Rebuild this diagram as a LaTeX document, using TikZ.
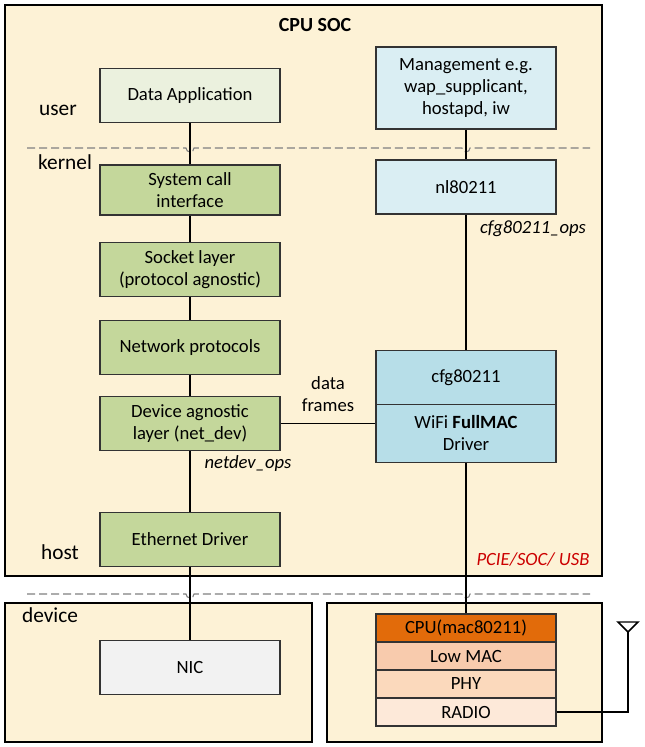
\documentclass[tikz,border=0pt]{standalone}
\usepackage{fontspec}
\setmainfont{Carlito}
\begin{document}
\begin{tikzpicture}[x=0.75pt,y=-0.75pt,
  every node/.style={font=\fontsize{14}{16.5}\selectfont},
  box/.style={draw=black!80,line width=0.9pt,minimum width=135pt,align=center,inner sep=0pt},
  grn/.style={box,fill=green1},
  lab/.style={font=\fontsize{16}{18}\selectfont},
  conn/.style={line width=1.3pt},
  dsh/.style={gray,dashed,line width=0.8pt,dash pattern=on 6pt off 3pt}]
\definecolor{bgc}{HTML}{FDF2D6}
\definecolor{green1}{HTML}{C4D79B}
\definecolor{green0}{HTML}{EBF1DE}
\definecolor{blue0}{HTML}{DAEEF3}
\definecolor{blue1}{HTML}{B7DEE8}
\definecolor{or1}{HTML}{E26B0A}
\definecolor{or2}{HTML}{F8CBAD}
\definecolor{or3}{HTML}{FBD9BC}
\definecolor{or4}{HTML}{FDE9D9}
\useasboundingbox[fill=white] (0,0) rectangle (644,747);
\draw[fill=bgc,line width=0.9pt] (5,5) rectangle (602,576);
\draw[fill=bgc,line width=0.9pt] (5,603) rectangle (312,742);
\draw[fill=bgc,line width=0.9pt] (327,603) rectangle (602,742);
\node[font=\fontsize{15}{17}\bfseries] (title) at (315,25) {CPU SOC};
\node[lab] (user) at (58,110) {user};
\node[lab] (kernel) at (65,162) {kernel};
\node[lab] (host) at (60,552) {host};
\node[lab] (device) at (50,615) {device};
% dashed lines
\draw[dsh] (27,148) -- (186,148) arc (180:0:4) -- (462,148) arc (180:0:4) -- (590,148);
\draw[dsh] (27,594) -- (186,594) arc (180:0:4) -- (462,594) arc (180:0:4) -- (590,594);
% left column
\node[box,fill=green0,minimum height=41pt] (app) at (190,95.5) {Data Application};
\node[grn,minimum height=37.5pt] (sys) at (190,190) {System call\\interface};
\node[grn,minimum height=41pt] (sock) at (190,269.5) {Socket layer\\(protocol agnostic)};
\node[grn,minimum height=41pt] (net) at (190,347.5) {Network protocols};
\node[grn,minimum height=41pt] (dev) at (190,423.5) {Device agnostic\\layer (net\_dev)};
\node[grn,minimum height=41pt] (eth) at (190,539.5) {Ethernet Driver};
\node[box,fill=black!5,minimum height=41pt] (nic) at (190,667.5) {NIC};
% right column
\node[box,fill=blue0,minimum height=61.5pt] (mgmt) at (466,88) {Management e.g.\\wap\_supplicant,\\hostapd, iw};
\node[box,fill=blue0,minimum height=40.5pt] (nl) at (466,187) {nl80211};
\node[box,fill=blue1,minimum height=41pt] (cfg) at (466,377.5) {cfg80211};
\node[box,fill=blue1,minimum height=43pt] (wifi) at (466,433.5) {WiFi \textbf{FullMAC}\\Driver};
\node[box,fill=or1,minimum height=21pt] (cpu) at (466,628) {CPU(mac80211)};
\node[box,fill=or2,minimum height=21pt] (low) at (466,656) {Low MAC};
\node[box,fill=or3,minimum height=21pt] (phy) at (466,684) {PHY};
\node[box,fill=or4,minimum height=21pt] (radio) at (466,712) {RADIO};
% labels
\node[font=\fontsize{14}{16}\itshape] (cfgops) at (533,229) {cfg80211\_ops};
\node[font=\fontsize{14}{16}\itshape] (ndops) at (248,464) {netdev\_ops};
\node[align=center] (df) at (328,394) {data\\frames};
\node[font=\fontsize{14}{16}\itshape,text=red!80!black] (pcie) at (533,560) {PCIE/SOC/ USB};
% connectors
\draw[conn] (app) -- (sys);
\draw[conn] (sys) -- (sock);
\draw[conn] (sock) -- (net);
\draw[conn] (net) -- (dev);
\draw[conn] (dev) -- (eth);
\draw[conn] (eth) -- (nic);
\draw[conn] (mgmt) -- (nl);
\draw[conn] (nl) -- (cfg);
\draw[conn] (wifi) -- (cpu);
\draw[conn] (dev.east) -- (dev.east -| wifi.west);
% antenna
\coordinate (ant) at (628,632);
\draw[conn] (radio.east) -| (ant);
\draw[line width=1.1pt] (618,622) -- (638,622) -- (ant) -- cycle;
\end{tikzpicture}
\end{document}
